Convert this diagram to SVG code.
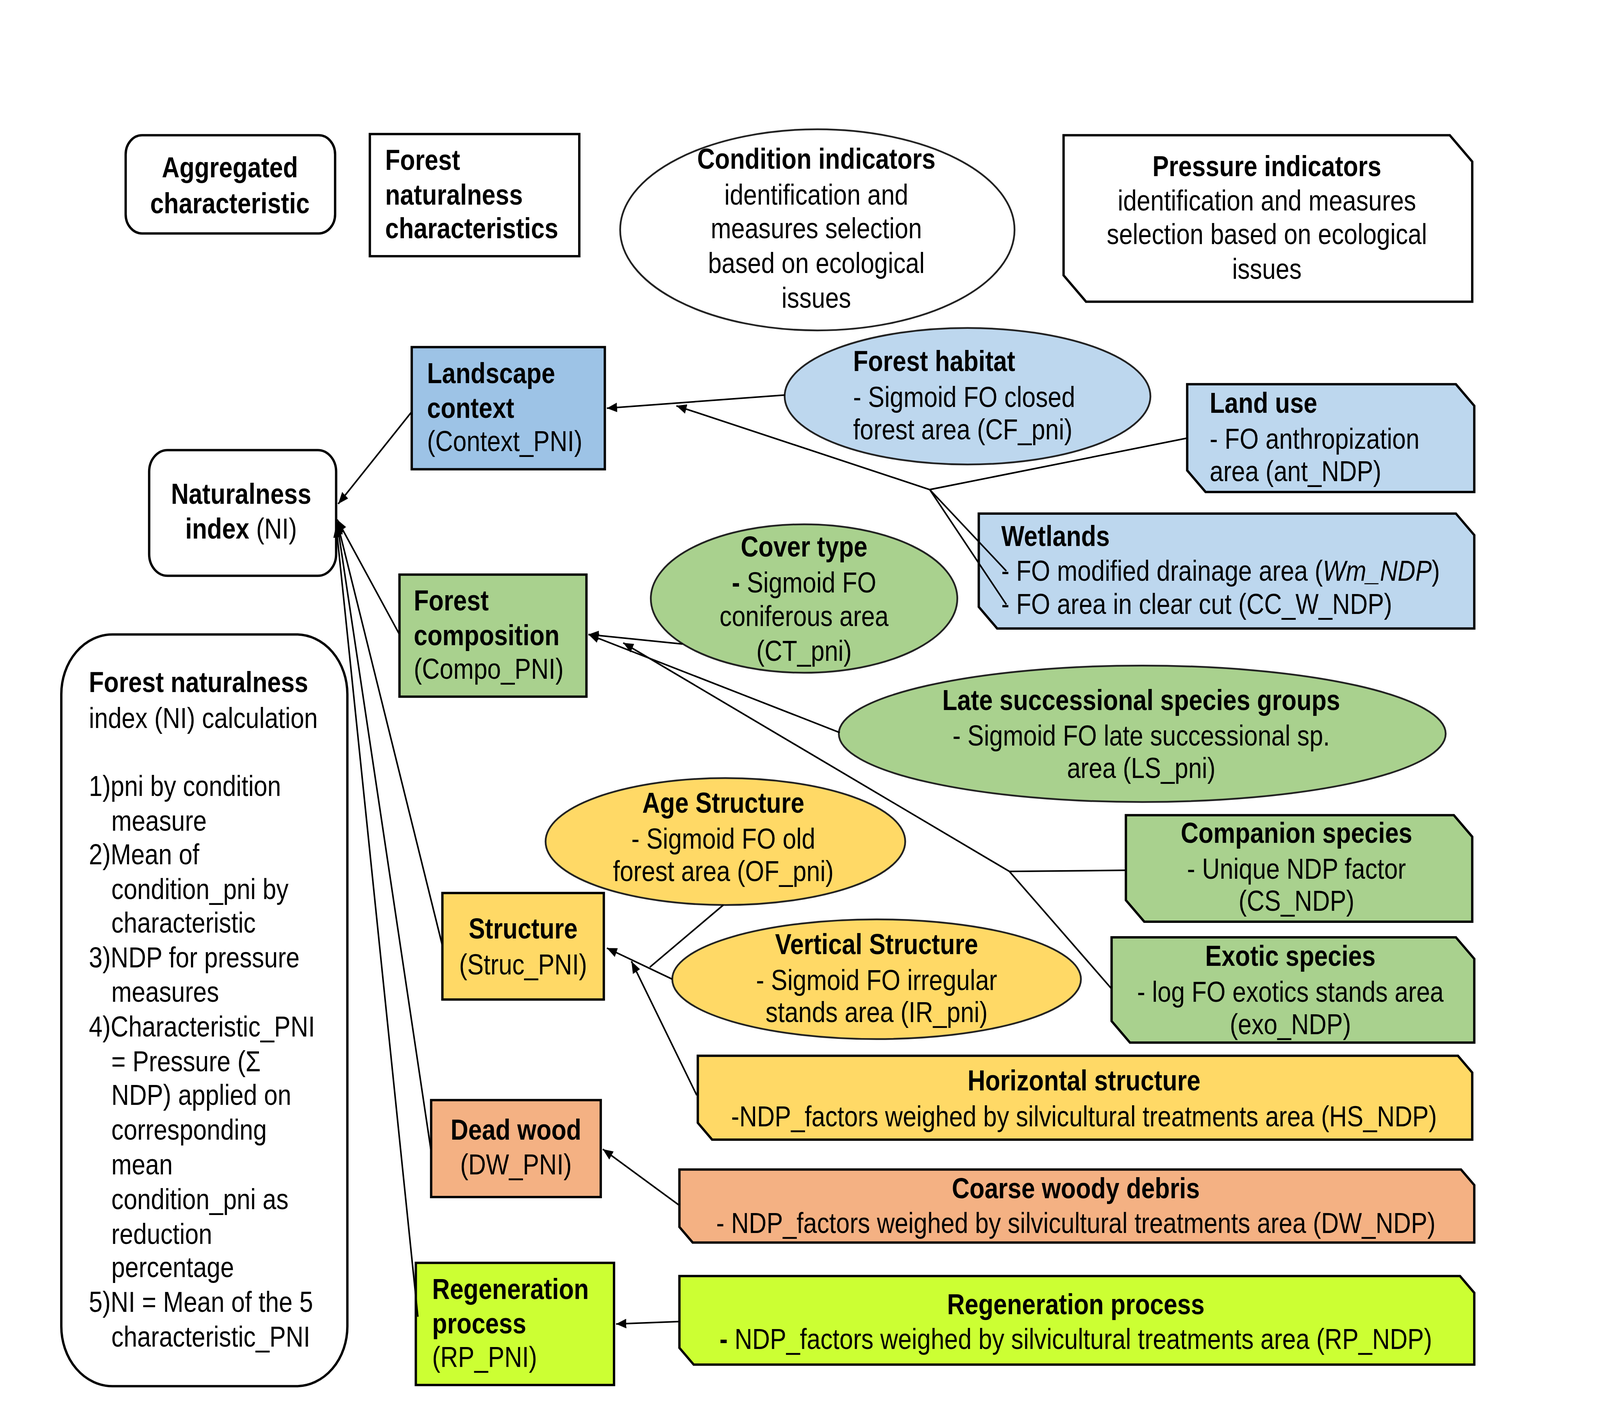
<svg xmlns="http://www.w3.org/2000/svg" width="4800" height="3600" viewBox="0 0 4800 3600">
<defs>
<style>
text{font-family:"Liberation Sans",Arial,sans-serif;font-size:24px;fill:#000}
.b{font-weight:bold}
.c{text-anchor:middle}
.box{stroke:#000;stroke-width:6;vector-effect:non-scaling-stroke}
.ell{stroke:#222;stroke-width:4.5;vector-effect:non-scaling-stroke}
.wht{fill:#fff}
.blu{fill:#9DC3E6}
.lbl{fill:#BDD7EE}
.grn{fill:#A9D18E}
.yel{fill:#FFD966}
.org{fill:#F4B183}
.lim{fill:#CCFF33}
.con{fill:none;stroke:#000;stroke-width:4;vector-effect:non-scaling-stroke}
</style>
<marker id="arr" viewBox="0 0 10 8" refX="10" refY="4" markerWidth="10" markerHeight="8" markerUnits="userSpaceOnUse" orient="auto"><path d="M0,0 L10,4 L0,8 z" fill="#000"/></marker>
</defs>
<rect x="0" y="0" width="4800" height="3600" fill="#fff"/>
<g transform="scale(2.6155,3.065)">
<g id="legend-aggregated">
<rect class="box wht" x="123" y="113" width="205" height="82" rx="16"/>
<text class="b c" x="225" y="148">Aggregated</text>
<text class="b c" x="225" y="178">characteristic</text>
</g>
<g id="legend-characteristics">
<rect class="box wht" x="362" y="112" width="205" height="102"/>
<text class="b" x="377" y="142">Forest</text>
<text class="b" x="377" y="171">naturalness</text>
<text class="b" x="377" y="199">characteristics</text>
</g>
<g id="legend-condition">
<ellipse class="ell wht" cx="800" cy="192" rx="193" ry="84"/>
<text class="b c" x="799" y="141">Condition indicators</text>
<text class="c" x="799" y="171">identification and</text>
<text class="c" x="799" y="199">measures selection</text>
<text class="c" x="799" y="228">based on ecological</text>
<text class="c" x="799" y="257">issues</text>
</g>
<g id="legend-pressure">
<path class="box wht" d="M1041,113 H1419 L1441,135 V252 H1063 L1041,230 Z"/>
<text class="b c" x="1240" y="147">Pressure indicators</text>
<text class="c" x="1240" y="176">identification and measures</text>
<text class="c" x="1240" y="204">selection based on ecological</text>
<text class="c" x="1240" y="233">issues</text>
</g>
<g id="naturalness-index">
<rect class="box wht" x="146" y="376" width="183" height="105" rx="18"/>
<text class="b c" x="236" y="421">Naturalness</text>
<text class="c" x="236" y="450"><tspan class="b">index</tspan> (NI)</text>
</g>
<g id="calculation">
<rect class="box wht" x="60" y="530" width="280" height="628" rx="50"/>
<text class="b" x="87" y="578">Forest naturalness</text>
<text x="87" y="608">index (NI) calculation</text>
<text x="87" y="665">1)pni by condition</text>
<text x="109" y="694">measure</text>
<text x="87" y="722">2)Mean of</text>
<text x="109" y="751">condition_pni by</text>
<text x="109" y="779">characteristic</text>
<text x="87" y="808">3)NDP for pressure</text>
<text x="109" y="837">measures</text>
<text x="87" y="866">4)Characteristic_PNI</text>
<text x="109" y="895">= Pressure (Σ</text>
<text x="109" y="923">NDP) applied on</text>
<text x="109" y="952">corresponding</text>
<text x="109" y="981">mean</text>
<text x="109" y="1010">condition_pni as</text>
<text x="109" y="1039">reduction</text>
<text x="109" y="1067">percentage</text>
<text x="87" y="1096">5)NI = Mean of the 5</text>
<text x="109" y="1125">characteristic_PNI</text>
</g>
<g id="landscape-context">
<rect class="box blu" x="403" y="290" width="189" height="102"/>
<text class="b" x="418" y="320">Landscape</text>
<text class="b" x="418" y="349">context</text>
<text x="418" y="377">(Context_PNI)</text>
</g>
<g id="forest-composition">
<rect class="box grn" x="391" y="480" width="183" height="102"/>
<text class="b" x="405" y="510">Forest</text>
<text class="b" x="405" y="539">composition</text>
<text x="405" y="567">(Compo_PNI)</text>
</g>
<g id="structure">
<rect class="box yel" x="433" y="746" width="158" height="89"/>
<text class="b c" x="512" y="784">Structure</text>
<text class="c" x="512" y="814">(Struc_PNI)</text>
</g>
<g id="dead-wood">
<rect class="box org" x="422" y="919" width="166" height="81"/>
<text class="b c" x="505" y="952">Dead wood</text>
<text class="c" x="505" y="981">(DW_PNI)</text>
</g>
<g id="regeneration-pni">
<rect class="box lim" x="407" y="1055" width="194" height="102"/>
<text class="b" x="423" y="1085">Regeneration</text>
<text class="b" x="423" y="1114">process</text>
<text x="423" y="1142">(RP_PNI)</text>
</g>
<g id="forest-habitat">
<ellipse class="ell lbl" cx="947" cy="331" rx="179" ry="57"/>
<text class="b" x="835" y="310">Forest habitat</text>
<text x="835" y="340">- Sigmoid FO closed</text>
<text x="835" y="367">forest area (CF_pni)</text>
</g>
<g id="land-use">
<path class="box lbl" d="M1162,321 H1425 L1443,339 V411 H1180 L1162,393 Z"/>
<text class="b" x="1184" y="345">Land use</text>
<text x="1184" y="375">- FO anthropization</text>
<text x="1184" y="402">area (ant_NDP)</text>
</g>
<g id="wetlands">
<path class="box lbl" d="M958,429 H1425 L1443,447 V525 H976 L958,507 Z"/>
<text class="b" x="980" y="456">Wetlands</text>
<text x="980" y="485">- FO modified drainage area (<tspan font-style="italic">Wm_NDP</tspan>)</text>
<text x="980" y="513">- FO area in clear cut (CC_W_NDP)</text>
</g>
<g id="cover-type">
<ellipse class="ell grn" cx="787" cy="500" rx="150" ry="62"/>
<text class="b c" x="787" y="465">Cover type</text>
<text class="c" x="787" y="495"><tspan class="b">-</tspan> Sigmoid FO</text>
<text class="c" x="787" y="523">coniferous area</text>
<text class="c" x="787" y="552">(CT_pni)</text>
</g>
<g id="late-successional">
<ellipse class="ell grn" cx="1118" cy="613" rx="297" ry="57"/>
<text class="b c" x="1117" y="593">Late successional species groups</text>
<text class="c" x="1117" y="623">- Sigmoid FO late successional sp.</text>
<text class="c" x="1117" y="650">area (LS_pni)</text>
</g>
<g id="companion-species">
<path class="box grn" d="M1102,681 H1423 L1441,699 V770 H1120 L1102,752 Z"/>
<text class="b c" x="1269" y="704">Companion species</text>
<text class="c" x="1269" y="734">- Unique NDP factor</text>
<text class="c" x="1269" y="761">(CS_NDP)</text>
</g>
<g id="exotic-species">
<path class="box grn" d="M1088,783 H1425 L1443,801 V871 H1106 L1088,853 Z"/>
<text class="b c" x="1263" y="807">Exotic species</text>
<text class="c" x="1263" y="837">- log FO exotics stands area</text>
<text class="c" x="1263" y="864">(exo_NDP)</text>
</g>
<g id="age-structure">
<ellipse class="ell yel" cx="710" cy="703" rx="176" ry="53"/>
<text class="b c" x="708" y="679">Age Structure</text>
<text class="c" x="708" y="709">- Sigmoid FO old</text>
<text class="c" x="708" y="736">forest area (OF_pni)</text>
</g>
<g id="vertical-structure">
<ellipse class="ell yel" cx="858" cy="818" rx="200" ry="50"/>
<text class="b c" x="858" y="797">Vertical Structure</text>
<text class="c" x="858" y="827">- Sigmoid FO irregular</text>
<text class="c" x="858" y="854">stands area (IR_pni)</text>
</g>
<g id="horizontal-structure">
<path class="box yel" d="M683,882 H1427 L1441,896 V952 H697 L683,938 Z"/>
<text class="b c" x="1061" y="911">Horizontal structure</text>
<text class="c" x="1061" y="941">-NDP_factors weighed by silvicultural treatments area (HS_NDP)</text>
</g>
<g id="coarse-woody-debris">
<path class="box org" d="M665,977 H1430 L1443,990 V1038 H678 L665,1025 Z"/>
<text class="b c" x="1053" y="1001">Coarse woody debris</text>
<text class="c" x="1053" y="1030">- NDP_factors weighed by silvicultural treatments area (DW_NDP)</text>
</g>
<g id="regeneration-process">
<path class="box lim" d="M665,1066 H1429 L1443,1080 V1140 H679 L665,1126 Z"/>
<text class="b c" x="1053" y="1098">Regeneration process</text>
<text class="c" x="1053" y="1127"><tspan class="b">-</tspan> NDP_factors weighed by silvicultural treatments area (RP_NDP)</text>
</g>
<g id="connectors">
<path class="con" d="M403,344 L331,421" marker-end="url(#arr)"/>
<path class="con" d="M391,530 L330,434" marker-end="url(#arr)"/>
<path class="con" d="M433,790 L330,436" marker-end="url(#arr)"/>
<path class="con" d="M422,962 L330,437" marker-end="url(#arr)"/>
<path class="con" d="M409,1100 L329,439" marker-end="url(#arr)"/>
<path class="con" d="M768,330 L594,341" marker-end="url(#arr)"/>
<path class="con" d="M1162,366 L910,409 L662,339" marker-end="url(#arr)"/>
<path class="con" d="M985,477 L910,409"/>
<path class="con" d="M985,505 L910,409"/>
<path class="con" d="M668,538 L576,530" marker-end="url(#arr)"/>
<path class="con" d="M822,612 L576,530" marker-end="url(#arr)"/>
<path class="con" d="M1102,727 L988,728 L610,537" marker-end="url(#arr)"/>
<path class="con" d="M1088,826 L988,728"/>
<path class="con" d="M658,818 L594,792" marker-end="url(#arr)"/>
<path class="con" d="M708,756 L636,808"/>
<path class="con" d="M682,915 L618,803" marker-end="url(#arr)"/>
<path class="con" d="M665,1007 L590,960" marker-end="url(#arr)"/>
<path class="con" d="M665,1104 L603,1106" marker-end="url(#arr)"/>
</g>
</g>
</svg>
